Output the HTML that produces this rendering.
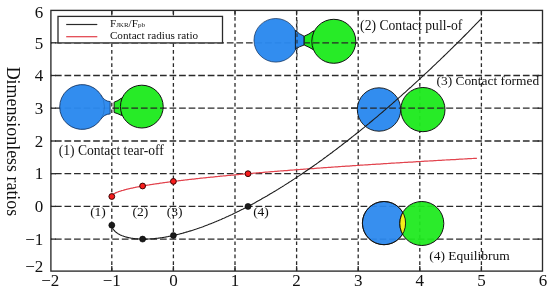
<!DOCTYPE html>
<html><head><meta charset="utf-8"><title>JKR</title>
<style>
html,body{margin:0;padding:0;background:#fff;}
body{width:550px;height:295px;overflow:hidden;}
svg{display:block;font-family:"Liberation Serif",serif;}
.gv{stroke:#2a2a2a;stroke-width:1.3;stroke-dasharray:3.7 2.9;}
.gh{stroke:#2a2a2a;stroke-width:1.3;stroke-dasharray:6.7 2.85;stroke-dashoffset:5.5;}
.tk{font-size:17px;fill:#111;}
.lb{font-size:13.5px;fill:#111;}
</style></head><body>
<svg width="550" height="295" viewBox="0 0 550 295">
<rect width="550" height="295" fill="#fff"/>
<g id="grid">
<line x1="111.8" y1="10.4" x2="111.8" y2="271.1" class="gv"/>
<line x1="173.4" y1="10.4" x2="173.4" y2="271.1" class="gv"/>
<line x1="235.0" y1="10.4" x2="235.0" y2="271.1" class="gv"/>
<line x1="296.6" y1="10.4" x2="296.6" y2="271.1" class="gv"/>
<line x1="358.2" y1="10.4" x2="358.2" y2="271.1" class="gv"/>
<line x1="419.8" y1="10.4" x2="419.8" y2="271.1" class="gv"/>
<line x1="481.4" y1="10.4" x2="481.4" y2="271.1" class="gv"/>
<line x1="50.9" y1="239.1" x2="542.5" y2="239.1" class="gh"/>
<line x1="50.9" y1="206.4" x2="542.5" y2="206.4" class="gh"/>
<line x1="50.9" y1="173.7" x2="542.5" y2="173.7" class="gh"/>
<line x1="50.9" y1="141.0" x2="542.5" y2="141.0" class="gh"/>
<line x1="50.9" y1="108.2" x2="542.5" y2="108.2" class="gh"/>
<line x1="50.9" y1="75.5" x2="542.5" y2="75.5" class="gh"/>
<line x1="50.9" y1="42.8" x2="542.5" y2="42.8" class="gh"/>
</g>
<!-- spheres -->
<g id="spheres">
<!-- (1) tear-off -->
<path d="M100.8,94.7 A22.4,22.4 0 1 0 100.8,119.3 Q104.2,114.2 110.2,113.9 L110.2,101.6 Q104.2,101.3 100.8,94.7 Z" fill="#2a88ee" stroke="#0c2a55" stroke-width="0.8" fill-opacity="0.96"/>
<path d="M100.8,94.7 A22.4,22.4 0 0 1 100.8,119.3" fill="none" stroke="#0c2a55" stroke-width="0.6" opacity="0.35"/>
<g fill="#1eea1e" stroke="#111" stroke-width="1" fill-opacity="0.96">
<path d="M114.1,102.2 Q118,101 121.6,98 L121.6,115.5 Q118,113.5 114.1,112.5 Z"/>
<circle cx="141.8" cy="106.6" r="21.4"/>
</g>
<clipPath id="c1"><rect x="114" y="100" width="50" height="16"/></clipPath><line x1="50.9" y1="108.2" x2="542.5" y2="108.2" class="gh" clip-path="url(#c1)"/>
<!-- (2) pull-off -->
<g fill="#2a88ee" stroke="#0c2a55" stroke-width="0.7" fill-opacity="0.96">
<circle cx="275.8" cy="40.3" r="21.8"/>
<path d="M295.4,30.4 Q299,34 304.2,36.2 L304.2,45 Q299,46.5 295.4,49.4 Z" stroke="#111" stroke-width="0.9" fill-opacity="1"/>
</g>
<g fill="#1eea1e" stroke="#111" stroke-width="1" fill-opacity="0.96">
<path d="M304.2,36.2 Q309,34.5 313.5,30.8 L313.5,49.8 Q309,47 304.2,45 Z" fill-opacity="1"/>
<circle cx="333.8" cy="41.3" r="22"/>
</g>
<line x1="297" y1="20" x2="297" y2="60" class="gv" opacity="0.8"/>
<clipPath id="c2"><rect x="304.4" y="35" width="54.6" height="16"/></clipPath><line x1="50.9" y1="42.8" x2="542.5" y2="42.8" class="gh" clip-path="url(#c2)"/>
<!-- (3) formed -->
<circle cx="379" cy="109.5" r="21.7" fill="#2a88ee" stroke="#111" stroke-width="0.9" fill-opacity="0.96"/>
<circle cx="422.9" cy="109.6" r="22.1" fill="#1eea1e" stroke="#111" stroke-width="1" fill-opacity="0.96"/>
<clipPath id="c3"><rect x="350" y="100" width="97" height="16"/></clipPath><line x1="50.9" y1="108.2" x2="542.5" y2="108.2" class="gh" clip-path="url(#c3)"/>
<!-- (4) equilibrium -->
<circle cx="384" cy="223.1" r="21.6" fill="#2a88ee" stroke="#111" stroke-width="0.9" fill-opacity="0.94"/>
<circle cx="421.8" cy="223.5" r="22" fill="#1eea1e" stroke="#111" stroke-width="1" fill-opacity="0.94"/>
<clipPath id="cb"><circle cx="384" cy="223.1" r="21.6"/></clipPath>
<circle cx="421.8" cy="223.5" r="22" fill="#f4ee1a" stroke="#111" stroke-width="1" clip-path="url(#cb)"/>
<circle cx="384" cy="223.1" r="21.6" fill="none" stroke="#111" stroke-width="0.9"/>
</g>
<polyline points="111.8,196.5 111.8,196.5 111.8,196.5 111.8,196.5 111.8,196.5 111.8,196.4 111.8,196.4 111.8,196.4 111.8,196.4 111.8,196.3 111.8,196.3 111.8,196.3 111.8,196.2 111.8,196.2 111.8,196.1 111.9,196.1 111.9,196.0 111.9,196.0 111.9,195.9 111.9,195.8 112.0,195.7 112.0,195.7 112.0,195.6 112.1,195.5 112.2,195.4 112.2,195.3 112.3,195.2 112.4,195.1 112.4,195.0 112.5,194.9 112.7,194.8 112.8,194.7 112.9,194.6 113.0,194.5 113.2,194.3 113.4,194.2 113.5,194.1 113.7,194.0 114.0,193.8 114.2,193.7 114.4,193.5 114.7,193.4 115.0,193.2 115.3,193.1 115.6,192.9 116.0,192.7 116.4,192.6 116.8,192.4 117.2,192.2 117.6,192.0 118.1,191.9 118.6,191.7 119.2,191.5 119.7,191.3 120.3,191.1 121.0,190.9 121.6,190.7 122.3,190.5 123.1,190.3 123.8,190.0 124.1,190.0 124.4,189.9 124.7,189.8 125.0,189.7 125.3,189.6 125.6,189.6 125.9,189.5 126.3,189.4 126.6,189.3 126.9,189.2 127.2,189.2 127.6,189.1 127.9,189.0 128.2,188.9 128.6,188.8 128.9,188.8 129.2,188.7 129.6,188.6 129.9,188.5 130.3,188.4 130.7,188.4 131.0,188.3 131.4,188.2 131.7,188.1 132.1,188.0 132.5,188.0 132.9,187.9 133.2,187.8 133.6,187.7 134.0,187.6 134.4,187.6 134.8,187.5 135.2,187.4 135.6,187.3 136.0,187.2 136.4,187.2 136.8,187.1 137.2,187.0 137.6,186.9 138.1,186.8 138.5,186.8 138.9,186.7 139.3,186.6 139.8,186.5 140.2,186.4 140.6,186.3 141.1,186.3 141.5,186.2 142.0,186.1 142.4,186.0 142.9,185.9 143.3,185.9 143.8,185.8 144.3,185.7 144.7,185.6 145.2,185.5 145.7,185.5 146.1,185.4 146.6,185.3 147.1,185.2 147.6,185.1 148.1,185.1 148.6,185.0 149.1,184.9 149.5,184.8 150.0,184.7 150.6,184.7 151.1,184.6 151.6,184.5 152.1,184.4 152.6,184.3 153.1,184.3 153.6,184.2 154.2,184.1 154.7,184.0 155.2,183.9 155.8,183.9 156.3,183.8 156.8,183.7 157.4,183.6 157.9,183.5 158.5,183.5 159.0,183.4 159.6,183.3 160.1,183.2 160.7,183.1 161.3,183.1 161.8,183.0 162.4,182.9 163.0,182.8 163.6,182.7 164.1,182.7 164.7,182.6 165.3,182.5 165.9,182.4 166.5,182.3 167.1,182.3 167.7,182.2 168.3,182.1 168.9,182.0 169.5,181.9 170.1,181.9 170.7,181.8 171.3,181.7 172.0,181.6 172.6,181.5 173.2,181.5 173.8,181.4 174.5,181.3 175.1,181.2 175.7,181.1 176.4,181.1 177.0,181.0 177.7,180.9 178.3,180.8 179.0,180.7 179.6,180.7 180.3,180.6 181.0,180.5 181.6,180.4 182.3,180.3 183.0,180.3 183.6,180.2 184.3,180.1 185.0,180.0 185.7,179.9 186.4,179.8 187.1,179.8 187.7,179.7 188.4,179.6 189.1,179.5 189.8,179.4 190.5,179.4 191.3,179.3 192.0,179.2 192.7,179.1 193.4,179.0 194.1,179.0 194.8,178.9 195.6,178.8 196.3,178.7 197.0,178.6 197.8,178.6 198.5,178.5 199.2,178.4 200.0,178.3 200.7,178.2 201.5,178.2 202.2,178.1 203.0,178.0 203.7,177.9 204.5,177.8 205.3,177.8 206.0,177.7 206.8,177.6 207.6,177.5 208.3,177.4 209.1,177.4 209.9,177.3 210.7,177.2 211.5,177.1 212.3,177.0 213.1,177.0 213.9,176.9 214.7,176.8 215.5,176.7 216.3,176.6 217.1,176.6 217.9,176.5 218.7,176.4 219.5,176.3 220.3,176.2 221.2,176.2 222.0,176.1 222.8,176.0 223.6,175.9 224.5,175.8 225.3,175.8 226.2,175.7 227.0,175.6 227.8,175.5 228.7,175.4 229.6,175.4 230.4,175.3 231.3,175.2 232.1,175.1 233.0,175.0 233.9,175.0 234.7,174.9 235.6,174.8 236.5,174.7 237.4,174.6 238.2,174.6 239.1,174.5 240.0,174.4 240.9,174.3 241.8,174.2 242.7,174.2 243.6,174.1 244.5,174.0 245.4,173.9 246.3,173.8 247.2,173.8 248.1,173.7 249.0,173.6 250.0,173.5 250.9,173.4 251.8,173.3 252.7,173.3 253.7,173.2 254.6,173.1 255.5,173.0 256.5,172.9 257.4,172.9 258.4,172.8 259.3,172.7 260.3,172.6 261.2,172.5 262.2,172.5 263.1,172.4 264.1,172.3 265.1,172.2 266.0,172.1 267.0,172.1 268.0,172.0 269.0,171.9 270.0,171.8 270.9,171.7 271.9,171.7 272.9,171.6 273.9,171.5 274.9,171.4 275.9,171.3 276.9,171.3 277.9,171.2 278.9,171.1 279.9,171.0 280.9,170.9 281.9,170.9 283.0,170.8 284.0,170.7 285.0,170.6 286.0,170.5 287.1,170.5 288.1,170.4 289.1,170.3 290.2,170.2 291.2,170.1 292.3,170.1 293.3,170.0 294.4,169.9 295.4,169.8 296.5,169.7 297.5,169.7 298.6,169.6 299.7,169.5 300.7,169.4 301.8,169.3 302.9,169.3 303.9,169.2 305.0,169.1 306.1,169.0 307.2,168.9 308.3,168.9 309.4,168.8 310.5,168.7 311.6,168.6 312.7,168.5 313.8,168.5 314.9,168.4 316.0,168.3 317.1,168.2 318.2,168.1 319.3,168.1 320.4,168.0 321.6,167.9 322.7,167.8 323.8,167.7 324.9,167.7 326.1,167.6 327.2,167.5 328.3,167.4 329.5,167.3 330.6,167.3 331.8,167.2 332.9,167.1 334.1,167.0 335.2,166.9 336.4,166.9 337.6,166.8 338.7,166.7 339.9,166.6 341.1,166.5 342.2,166.4 343.4,166.4 344.6,166.3 345.8,166.2 347.0,166.1 348.1,166.0 349.3,166.0 350.5,165.9 351.7,165.8 352.9,165.7 354.1,165.6 355.3,165.6 356.5,165.5 357.8,165.4 359.0,165.3 360.2,165.2 361.4,165.2 362.6,165.1 363.9,165.0 365.1,164.9 366.3,164.8 367.5,164.8 368.8,164.7 370.0,164.6 371.3,164.5 372.5,164.4 373.8,164.4 375.0,164.3 376.3,164.2 377.5,164.1 378.8,164.0 380.0,164.0 381.3,163.9 382.6,163.8 383.8,163.7 385.1,163.6 386.4,163.6 387.7,163.5 389.0,163.4 390.2,163.3 391.5,163.2 392.8,163.2 394.1,163.1 395.4,163.0 396.7,162.9 398.0,162.8 399.3,162.8 400.6,162.7 401.9,162.6 403.2,162.5 404.6,162.4 405.9,162.4 407.2,162.3 408.5,162.2 409.8,162.1 411.2,162.0 412.5,162.0 413.8,161.9 415.2,161.8 416.5,161.7 417.9,161.6 419.2,161.6 420.6,161.5 421.9,161.4 423.3,161.3 424.6,161.2 426.0,161.2 427.4,161.1 428.7,161.0 430.1,160.9 431.5,160.8 432.8,160.8 434.2,160.7 435.6,160.6 437.0,160.5 438.4,160.4 439.8,160.4 441.2,160.3 442.6,160.2 444.0,160.1 445.4,160.0 446.8,159.9 448.2,159.9 449.6,159.8 451.0,159.7 452.4,159.6 453.8,159.5 455.2,159.5 456.7,159.4 458.1,159.3 459.5,159.2 461.0,159.1 462.4,159.1 463.8,159.0 465.3,158.9 466.7,158.8 468.2,158.7 469.6,158.7 471.1,158.6 472.5,158.5 474.0,158.4 475.4,158.3 476.9,158.3" fill="none" stroke="#e2444e" stroke-width="1.25"/>
<polyline points="111.8,224.6 111.8,224.6 111.8,224.6 111.8,224.6 111.8,224.6 111.8,224.7 111.8,224.7 111.8,224.8 111.8,224.8 111.8,224.9 111.8,225.0 111.8,225.1 111.8,225.2 111.8,225.3 111.8,225.4 111.9,225.5 111.9,225.6 111.9,225.7 111.9,225.9 111.9,226.0 112.0,226.2 112.0,226.4 112.0,226.5 112.1,226.7 112.2,226.9 112.2,227.1 112.3,227.3 112.4,227.5 112.4,227.7 112.5,227.9 112.7,228.1 112.8,228.4 112.9,228.6 113.0,228.9 113.2,229.1 113.4,229.4 113.5,229.6 113.7,229.9 114.0,230.2 114.2,230.4 114.4,230.7 114.7,231.0 115.0,231.3 115.3,231.6 115.6,231.9 116.0,232.2 116.4,232.5 116.8,232.8 117.2,233.1 117.6,233.4 118.1,233.7 118.6,234.0 119.2,234.3 119.7,234.6 120.3,234.9 121.0,235.2 121.6,235.5 122.3,235.8 123.1,236.0 123.8,236.3 124.1,236.4 124.4,236.5 124.7,236.6 125.0,236.7 125.3,236.8 125.6,236.9 125.9,237.0 126.3,237.1 126.6,237.1 126.9,237.2 127.2,237.3 127.6,237.4 127.9,237.5 128.2,237.6 128.6,237.6 128.9,237.7 129.2,237.8 129.6,237.8 129.9,237.9 130.3,238.0 130.7,238.0 131.0,238.1 131.4,238.2 131.7,238.2 132.1,238.3 132.5,238.3 132.9,238.4 133.2,238.5 133.6,238.5 134.0,238.6 134.4,238.6 134.8,238.6 135.2,238.7 135.6,238.7 136.0,238.8 136.4,238.8 136.8,238.8 137.2,238.9 137.6,238.9 138.1,238.9 138.5,239.0 138.9,239.0 139.3,239.0 139.8,239.0 140.2,239.0 140.6,239.1 141.1,239.1 141.5,239.1 142.0,239.1 142.4,239.1 142.9,239.1 143.3,239.1 143.8,239.1 144.3,239.1 144.7,239.1 145.2,239.1 145.7,239.1 146.1,239.1 146.6,239.1 147.1,239.1 147.6,239.0 148.1,239.0 148.6,239.0 149.1,239.0 149.5,239.0 150.0,238.9 150.6,238.9 151.1,238.9 151.6,238.8 152.1,238.8 152.6,238.7 153.1,238.7 153.6,238.7 154.2,238.6 154.7,238.6 155.2,238.5 155.8,238.4 156.3,238.4 156.8,238.3 157.4,238.3 157.9,238.2 158.5,238.1 159.0,238.1 159.6,238.0 160.1,237.9 160.7,237.8 161.3,237.7 161.8,237.7 162.4,237.6 163.0,237.5 163.6,237.4 164.1,237.3 164.7,237.2 165.3,237.1 165.9,237.0 166.5,236.9 167.1,236.8 167.7,236.7 168.3,236.5 168.9,236.4 169.5,236.3 170.1,236.2 170.7,236.1 171.3,235.9 172.0,235.8 172.6,235.7 173.2,235.5 173.8,235.4 174.5,235.2 175.1,235.1 175.7,234.9 176.4,234.8 177.0,234.6 177.7,234.5 178.3,234.3 179.0,234.2 179.6,234.0 180.3,233.8 181.0,233.6 181.6,233.5 182.3,233.3 183.0,233.1 183.6,232.9 184.3,232.7 185.0,232.5 185.7,232.3 186.4,232.1 187.1,231.9 187.7,231.7 188.4,231.5 189.1,231.3 189.8,231.1 190.5,230.9 191.3,230.7 192.0,230.4 192.7,230.2 193.4,230.0 194.1,229.7 194.8,229.5 195.6,229.3 196.3,229.0 197.0,228.8 197.8,228.5 198.5,228.3 199.2,228.0 200.0,227.7 200.7,227.5 201.5,227.2 202.2,226.9 203.0,226.7 203.7,226.4 204.5,226.1 205.3,225.8 206.0,225.5 206.8,225.2 207.6,224.9 208.3,224.6 209.1,224.3 209.9,224.0 210.7,223.7 211.5,223.4 212.3,223.1 213.1,222.8 213.9,222.4 214.7,222.1 215.5,221.8 216.3,221.4 217.1,221.1 217.9,220.8 218.7,220.4 219.5,220.1 220.3,219.7 221.2,219.4 222.0,219.0 222.8,218.6 223.6,218.3 224.5,217.9 225.3,217.5 226.2,217.1 227.0,216.7 227.8,216.4 228.7,216.0 229.6,215.6 230.4,215.2 231.3,214.8 232.1,214.4 233.0,213.9 233.9,213.5 234.7,213.1 235.6,212.7 236.5,212.3 237.4,211.8 238.2,211.4 239.1,211.0 240.0,210.5 240.9,210.1 241.8,209.6 242.7,209.2 243.6,208.7 244.5,208.2 245.4,207.8 246.3,207.3 247.2,206.8 248.1,206.3 249.0,205.9 250.0,205.4 250.9,204.9 251.8,204.4 252.7,203.9 253.7,203.4 254.6,202.9 255.5,202.4 256.5,201.8 257.4,201.3 258.4,200.8 259.3,200.3 260.3,199.7 261.2,199.2 262.2,198.6 263.1,198.1 264.1,197.5 265.1,197.0 266.0,196.4 267.0,195.9 268.0,195.3 269.0,194.7 270.0,194.1 270.9,193.6 271.9,193.0 272.9,192.4 273.9,191.8 274.9,191.2 275.9,190.6 276.9,190.0 277.9,189.4 278.9,188.7 279.9,188.1 280.9,187.5 281.9,186.9 283.0,186.2 284.0,185.6 285.0,184.9 286.0,184.3 287.1,183.6 288.1,183.0 289.1,182.3 290.2,181.6 291.2,181.0 292.3,180.3 293.3,179.6 294.4,178.9 295.4,178.2 296.5,177.5 297.5,176.8 298.6,176.1 299.7,175.4 300.7,174.7 301.8,174.0 302.9,173.2 303.9,172.5 305.0,171.8 306.1,171.0 307.2,170.3 308.3,169.5 309.4,168.8 310.5,168.0 311.6,167.3 312.7,166.5 313.8,165.7 314.9,164.9 316.0,164.2 317.1,163.4 318.2,162.6 319.3,161.8 320.4,161.0 321.6,160.2 322.7,159.4 323.8,158.5 324.9,157.7 326.1,156.9 327.2,156.0 328.3,155.2 329.5,154.4 330.6,153.5 331.8,152.7 332.9,151.8 334.1,150.9 335.2,150.1 336.4,149.2 337.6,148.3 338.7,147.4 339.9,146.5 341.1,145.6 342.2,144.7 343.4,143.8 344.6,142.9 345.8,142.0 347.0,141.1 348.1,140.2 349.3,139.2 350.5,138.3 351.7,137.3 352.9,136.4 354.1,135.4 355.3,134.5 356.5,133.5 357.8,132.5 359.0,131.6 360.2,130.6 361.4,129.6 362.6,128.6 363.9,127.6 365.1,126.6 366.3,125.6 367.5,124.6 368.8,123.6 370.0,122.5 371.3,121.5 372.5,120.5 373.8,119.4 375.0,118.4 376.3,117.3 377.5,116.3 378.8,115.2 380.0,114.2 381.3,113.1 382.6,112.0 383.8,110.9 385.1,109.8 386.4,108.7 387.7,107.6 389.0,106.5 390.2,105.4 391.5,104.3 392.8,103.2 394.1,102.0 395.4,100.9 396.7,99.7 398.0,98.6 399.3,97.4 400.6,96.3 401.9,95.1 403.2,93.9 404.6,92.8 405.9,91.6 407.2,90.4 408.5,89.2 409.8,88.0 411.2,86.8 412.5,85.6 413.8,84.4 415.2,83.1 416.5,81.9 417.9,80.7 419.2,79.4 420.6,78.2 421.9,76.9 423.3,75.7 424.6,74.4 426.0,73.1 427.4,71.9 428.7,70.6 430.1,69.3 431.5,68.0 432.8,66.7 434.2,65.4 435.6,64.1 437.0,62.7 438.4,61.4 439.8,60.1 441.2,58.7 442.6,57.4 444.0,56.0 445.4,54.7 446.8,53.3 448.2,51.9 449.6,50.6 451.0,49.2 452.4,47.8 453.8,46.4 455.2,45.0 456.7,43.6 458.1,42.2 459.5,40.8 461.0,39.3 462.4,37.9 463.8,36.5 465.3,35.0 466.7,33.6 468.2,32.1 469.6,30.6 471.1,29.2 472.5,27.7 474.0,26.2 475.4,24.7 476.9,23.2 478.4,21.7 479.8,20.2 481.3,18.7" fill="none" stroke="#1c1c1c" stroke-width="1.1"/>
<circle cx="111.8" cy="225.2" r="3" fill="#1a1a1a" stroke="#000" stroke-width="0.6"/>
<circle cx="111.8" cy="196.5" r="2.9" fill="#f81c1c" stroke="#3a0505" stroke-width="1"/>
<circle cx="142.6" cy="239.1" r="3" fill="#1a1a1a" stroke="#000" stroke-width="0.6"/>
<circle cx="142.6" cy="186.0" r="2.9" fill="#f81c1c" stroke="#3a0505" stroke-width="1"/>
<circle cx="173.4" cy="235.5" r="3" fill="#1a1a1a" stroke="#000" stroke-width="0.6"/>
<circle cx="173.4" cy="181.4" r="2.9" fill="#f81c1c" stroke="#3a0505" stroke-width="1"/>
<circle cx="248.0" cy="206.4" r="3" fill="#1a1a1a" stroke="#000" stroke-width="0.6"/>
<circle cx="248.0" cy="173.7" r="2.9" fill="#f81c1c" stroke="#3a0505" stroke-width="1"/>
<!-- legend -->
<rect x="58" y="16.4" width="164.5" height="26.5" fill="#fff" stroke="#2a2a2a" stroke-width="1.3"/>
<line x1="66.2" y1="24.5" x2="97.3" y2="24.5" stroke="#2a2a2a" stroke-width="1.2"/>
<line x1="66.2" y1="36.7" x2="97.3" y2="36.7" stroke="#e2444e" stroke-width="1.25"/>
<text x="109.9" y="26.6" style="font-size:11.2px" fill="#111">F<tspan style="font-size:7px">JKR</tspan>/F<tspan style="font-size:7px">pb</tspan></text>
<text x="109.9" y="38.9" style="font-size:11.2px" fill="#111">Contact radius ratio</text>
<!-- frame -->
<g stroke="#2a2a2a" stroke-width="1.3"><line x1="111.8" y1="271.1" x2="111.8" y2="266.1"/>
<line x1="111.8" y1="10.4" x2="111.8" y2="15.4"/>
<line x1="173.4" y1="271.1" x2="173.4" y2="266.1"/>
<line x1="173.4" y1="10.4" x2="173.4" y2="15.4"/>
<line x1="235.0" y1="271.1" x2="235.0" y2="266.1"/>
<line x1="235.0" y1="10.4" x2="235.0" y2="15.4"/>
<line x1="296.6" y1="271.1" x2="296.6" y2="266.1"/>
<line x1="296.6" y1="10.4" x2="296.6" y2="15.4"/>
<line x1="358.2" y1="271.1" x2="358.2" y2="266.1"/>
<line x1="358.2" y1="10.4" x2="358.2" y2="15.4"/>
<line x1="419.8" y1="271.1" x2="419.8" y2="266.1"/>
<line x1="419.8" y1="10.4" x2="419.8" y2="15.4"/>
<line x1="481.4" y1="271.1" x2="481.4" y2="266.1"/>
<line x1="481.4" y1="10.4" x2="481.4" y2="15.4"/>
<line x1="50.9" y1="239.1" x2="55.9" y2="239.1"/>
<line x1="542.5" y1="239.1" x2="537.5" y2="239.1"/>
<line x1="50.9" y1="206.4" x2="55.9" y2="206.4"/>
<line x1="542.5" y1="206.4" x2="537.5" y2="206.4"/>
<line x1="50.9" y1="173.7" x2="55.9" y2="173.7"/>
<line x1="542.5" y1="173.7" x2="537.5" y2="173.7"/>
<line x1="50.9" y1="141.0" x2="55.9" y2="141.0"/>
<line x1="542.5" y1="141.0" x2="537.5" y2="141.0"/>
<line x1="50.9" y1="108.2" x2="55.9" y2="108.2"/>
<line x1="542.5" y1="108.2" x2="537.5" y2="108.2"/>
<line x1="50.9" y1="75.5" x2="55.9" y2="75.5"/>
<line x1="542.5" y1="75.5" x2="537.5" y2="75.5"/>
<line x1="50.9" y1="42.8" x2="55.9" y2="42.8"/>
<line x1="542.5" y1="42.8" x2="537.5" y2="42.8"/></g>
<rect x="50.9" y="10.4" width="491.6" height="260.7" fill="none" stroke="#2a2a2a" stroke-width="1.35"/>
<text x="43.3" y="271.5" text-anchor="end" class="tk">−2</text>
<text x="43.3" y="244.8" text-anchor="end" class="tk">−1</text>
<text x="43.3" y="212.1" text-anchor="end" class="tk">0</text>
<text x="43.3" y="179.4" text-anchor="end" class="tk">1</text>
<text x="43.3" y="146.7" text-anchor="end" class="tk">2</text>
<text x="43.3" y="113.9" text-anchor="end" class="tk">3</text>
<text x="43.3" y="81.2" text-anchor="end" class="tk">4</text>
<text x="43.3" y="48.5" text-anchor="end" class="tk">5</text>
<text x="43.3" y="18.0" text-anchor="end" class="tk">6</text>
<text x="50.2" y="286.3" text-anchor="middle" class="tk">−2</text>
<text x="111.8" y="286.3" text-anchor="middle" class="tk">−1</text>
<text x="173.4" y="286.3" text-anchor="middle" class="tk">0</text>
<text x="235.0" y="286.3" text-anchor="middle" class="tk">1</text>
<text x="296.6" y="286.3" text-anchor="middle" class="tk">2</text>
<text x="358.2" y="286.3" text-anchor="middle" class="tk">3</text>
<text x="419.8" y="286.3" text-anchor="middle" class="tk">4</text>
<text x="481.4" y="286.3" text-anchor="middle" class="tk">5</text>
<text x="543.0" y="286.3" text-anchor="middle" class="tk">6</text>
<text transform="translate(6.5,141.45) rotate(90)" text-anchor="middle" style="font-size:17.9px" fill="#111">Dimensionless ratios</text>
<text x="58.7" y="155.1" class="lb" style="font-size:13.6px">(1) Contact tear-off</text>
<text x="360.1" y="29.8" class="lb" style="font-size:13.65px">(2) Contact pull-of</text>
<text x="436.5" y="84.6" class="lb" style="font-size:13.4px">(3) Contact formed</text>
<text x="429.2" y="259.7" class="lb">(4) Equilibrum</text>
<text x="98" y="216.2" text-anchor="middle" class="lb">(1)</text>
<text x="140.3" y="216.2" text-anchor="middle" class="lb">(2)</text>
<text x="174.7" y="216.2" text-anchor="middle" class="lb">(3)</text>
<text x="261" y="216.2" text-anchor="middle" class="lb">(4)</text>
</svg>
</body></html>
